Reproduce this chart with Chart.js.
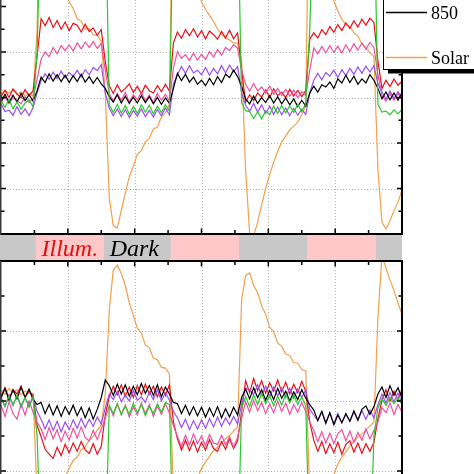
<!DOCTYPE html>
<html>
<head>
<meta charset="utf-8">
<script src="https://cdn.jsdelivr.net/npm/chart.js@4.4.1/dist/chart.umd.min.js"></script>
<style>
  html, body { margin: 0; padding: 0; background: #fff; overflow: hidden; }
  #wrap { position: relative; width: 474px; height: 474px; }
  canvas { position: absolute; left: 0; }
  #topChart { top: 0; width: 474px; height: 262px; }
  #botChart { top: 259px; width: 474px; height: 215px; }
</style>
</head>
<body>
<div id="wrap">
  <canvas id="topChart" width="474" height="262"></canvas>
  <canvas id="botChart" width="474" height="215"></canvas>
</div>
<script>
// time (s), one sample every 6 s
const time = [0,6,12,18,24,30,36,42,48,54,60,66,72,78,84,90,96,102,108,114,120,126,132,138,144,150,
  156,162,168,174,180,186,192,198,204,210,216,222,228,234,240,246,252,258,264,270,276,282,288,294,300,
  306,312,318,324,330,336,342,348,354,360,366,372,378,384,390,396,402,408,414,420,426,432,438,444,450,
  456,462,468,474,480,486,492,498,504,510,516,522,528,534,540,546,552,558,564,570,576,582,588,594,600];

const names = ['365', '405', '532', '660', '850', 'Solar'];
const colors = ['#9b4ff0', '#f0509e', '#2ec82e', '#e8101a', '#000000', '#f2a04a'];
const drawOrder = [3, 4, 1, 5, 2, 6];

// illumination periods (s)
const illumOn = [52, 254, 458];
const illumOff = [154, 356, 561];
const stripLabels = ['Illum.', 'Dark'];

const xTicks = [0,50,100,150,200,250,300,350,400,450,500,550,600];
const topTicks = [0,5,10,15,20,25,30,35,40,45,50];
const topGrid = [10,20,30,40];
const botTicks = [0,5,10,15,20,25,30];
const botGrid = [0,10,20];

// upper panel
const topPurple = [28.6,26.9,27.2,26.1,28.0,26.3,27.5,26.0,27.8,
 31.0,
 33.7,35.2,34.0,35.6,34.1,35.8,34.3,35.5,34.6,36.0,34.5,36.1,35.0,36.6,35.9,37.2,
 31.0,
 27.7,26.0,27.5,25.8,27.3,25.6,27.1,25.9,27.5,25.8,27.2,25.7,27.4,26.0,27.7,26.2,
 33.0,
 35.0,36.8,35.3,37.0,35.4,36.0,35.0,36.6,34.9,36.4,35.2,37.0,35.4,37.1,35.7,36.8,
 31.0,
 28.3,27.0,28.7,26.8,28.4,26.5,28.1,26.3,27.9,26.2,27.7,26.0,27.6,26.1,27.4,26.3,
 31.0,
 33.8,35.3,33.9,35.5,34.7,36.0,34.4,36.1,34.8,36.4,35.1,36.7,35.3,36.9,35.6,37.0,
 33.0,
 31.2,29.6,31.4,29.8,31.3,29.9];
const topPink = [29.0,30.1,28.7,29.9,29.4,28.6,30.2,28.9,29.8,
 34.0,
 38.4,40.0,39.0,41.0,39.6,41.4,40.3,41.6,40.2,42.0,40.7,42.2,41.0,42.3,40.8,41.9,
 36.0,
 30.8,29.3,30.9,29.4,31.1,29.0,30.6,29.5,31.2,29.3,30.5,28.9,30.9,29.4,30.7,29.2,
 36.5,
 40.1,38.6,39.4,38.1,39.8,38.2,39.5,38.4,40.1,38.9,40.5,39.3,41.0,40.3,41.6,40.8,
 36.0,
 32.9,31.4,33.1,31.5,32.3,30.9,32.5,30.7,32.0,30.4,31.8,30.3,31.6,30.0,31.3,30.5,
 36.0,
 40.9,39.6,41.2,39.8,41.4,39.9,41.3,39.8,41.6,40.1,41.8,40.4,42.0,40.6,42.1,41.0,
 35.0,
 30.5,29.2,30.8,29.4,30.9,29.5];
const topGreen = [29.4,27.8,29.6,27.5,29.0,27.4,28.8,29.5,27.9,
 40.0,
 72.5,73.4,72.8,73.9,73.2,74.0,73.5,74.3,73.7,74.6,74.0,74.8,74.2,75.0,74.5,75.1,
 74.8,
 28.4,26.7,28.5,26.6,28.2,26.3,28.0,26.5,28.4,26.8,28.3,26.4,28.1,26.7,28.4,27.0,
 72.0,73.0,73.8,73.2,74.1,73.5,74.4,73.8,74.6,74.0,74.8,74.3,75.0,74.5,75.2,74.7,75.1,
 28.9,27.1,26.9,25.4,26.9,25.3,27.1,26.2,28.1,26.5,28.3,26.6,28.2,26.7,28.5,26.9,28.6,
 45.0,
 72.8,73.6,73.1,74.0,73.4,74.3,73.7,74.5,73.9,74.7,74.2,74.9,74.4,75.1,74.6,75.0,
 28.5,26.8,27.0,26.2,27.3,26.4,27.4];
const topRed = [30.2,31.6,30.0,31.9,30.8,29.9,31.7,30.4,31.5,
 39.0,
 47.3,45.8,47.6,45.4,46.9,45.0,46.6,44.7,46.3,45.9,44.4,46.1,44.5,45.3,43.7,44.9,
 38.0,
 32.6,30.9,32.8,31.2,32.0,33.0,31.1,32.5,30.8,32.7,31.5,31.0,32.6,31.3,32.9,31.4,
 42.0,
 44.4,43.0,44.9,43.6,45.1,43.3,44.7,42.9,44.6,43.8,42.8,44.5,43.1,44.8,42.9,44.2,
 36.0,
 29.0,30.6,29.3,31.0,30.1,31.7,30.0,31.9,30.4,31.2,30.0,31.8,30.3,31.6,30.2,31.5,
 42.8,
 44.2,43.1,44.9,43.8,45.6,44.3,46.0,44.7,46.4,45.2,46.9,45.5,47.2,45.9,47.4,46.5,
 38.0,
 32.0,33.8,32.4,34.1,32.7,33.6];
const topBlack = [29.1,30.7,28.9,30.5,29.0,30.9,29.3,30.6,29.2,
 31.5,
 34.5,33.3,35.2,33.6,35.0,33.5,34.9,33.3,34.8,33.5,35.1,33.4,34.6,33.1,34.4,33.0,
 32.0,
 30.2,29.0,30.6,28.8,30.3,28.7,30.1,28.8,30.4,28.9,30.2,28.6,30.0,28.5,29.9,28.7,
 32.0,
 35.3,33.7,35.1,33.4,34.5,32.9,33.8,32.6,34.2,32.8,34.6,33.3,35.1,34.4,36.0,34.6,
 32.5,
 29.7,28.6,30.3,28.7,30.0,28.9,30.4,28.8,30.2,28.6,29.9,28.4,29.7,28.0,29.4,28.1,
 31.0,
 32.5,31.2,32.8,32.3,33.4,32.0,34.1,33.2,34.9,33.3,34.7,32.9,34.1,33.2,35.0,33.8,
 32.0,
 29.7,31.2,29.5,31.0,29.4,31.1];
const topSolar = [30.8,31.5,31.0,31.7,30.6,31.2,30.4,30.9,30.3,
 45.0,
 92.0,82.0,75.0,69.5,64.5,60.0,54.8,
 51.0,49.6,47.3,46.8,45.0,45.2,43.8,43.7,42.3,
 31.0,8.0,1.8,1.3,5.2,8.9,12.6,14.9,17.5,18.3,20.3,21.0,23.1,23.5,25.7,26.6,28.5,
 90.0,82.0,75.0,69.0,64.0,59.5,55.0,
 51.0,49.4,48.0,46.7,45.0,43.9,43.0,42.7,42.0,41.9,
 38.2,14.1,0.2,-0.4,2.6,6.4,10.1,13.0,15.8,18.2,20.2,21.5,22.9,23.7,24.6,26.2,28.1,
 90.0,82.0,74.0,66.0,60.0,55.0,
 51.2,49.0,47.2,46.0,45.6,44.2,43.5,41.8,41.0,39.8,39.0,
 14.1,2.6,1.1,2.9,5.1,7.0,9.7];

// lower panel
const botPurple = [10.6,9.2,10.9,9.4,10.8,9.1,10.5,9.3,10.7,
 8.5,
 7.4,6.0,7.3,5.8,7.1,5.6,7.0,5.9,7.3,6.1,7.5,6.2,7.4,6.4,7.7,6.7,
 9.0,
 11.0,10.2,11.4,9.9,10.8,10.0,11.5,10.1,10.6,9.8,11.3,10.2,11.6,10.0,11.2,10.1,
 8.5,
 7.6,6.2,7.4,5.9,7.2,6.0,7.3,6.1,7.5,6.3,7.7,6.4,7.6,6.6,7.8,6.7,
 9.5,
 11.8,11.6,10.9,12.3,10.8,12.1,10.6,12.0,10.7,11.9,10.5,11.8,10.4,11.7,10.5,11.6,
 8.8,
 8.0,7.2,8.5,7.0,8.3,6.8,8.2,6.9,8.1,7.1,8.4,7.2,8.6,7.4,8.7,7.6,
 9.5,
 11.0,9.7,11.2,9.9,11.1,9.8];
const botPink = [9.4,7.8,9.9,8.2,7.4,9.6,8.0,10.0,8.4,
 7.0,
 6.0,4.5,6.2,4.6,5.9,4.2,5.7,4.4,6.1,4.7,6.3,4.8,4.3,5.8,4.5,6.0,
 7.5,
 9.3,7.9,9.6,8.1,9.4,7.7,9.2,8.0,9.7,8.2,9.5,7.8,9.3,8.1,9.6,8.3,
 6.5,
 4.9,3.5,5.1,3.7,5.3,3.9,5.0,3.6,5.2,4.0,3.8,5.1,3.7,4.9,3.4,4.8,
 7.5,
 9.9,8.4,10.1,8.6,9.8,8.2,9.6,8.3,10.0,8.5,9.7,8.1,9.5,8.4,9.8,8.5,
 7.0,
 5.8,4.2,5.6,4.0,5.4,3.9,5.3,5.9,4.3,5.7,4.1,5.5,4.4,6.0,4.6,5.8,
 7.0,
 9.1,8.3,9.7,8.1,9.5,8.4];
const botGreen = [10.4,9.2,10.7,9.4,10.8,9.3,10.5,9.1,10.6,
 5.0,
 -12.0,-12.4,-11.8,-12.6,-12.1,-12.8,-12.3,-12.9,-12.5,-13.0,-12.6,-13.1,-12.7,-13.2,-12.8,-13.3,-12.9,
 9.4,8.2,9.6,8.0,9.3,8.1,9.7,8.3,9.5,7.9,9.2,8.2,9.6,8.4,9.8,9.5,
 -12.2,-12.7,-12.3,-12.9,-12.5,-13.0,-12.6,-13.1,-12.7,-13.2,-12.8,-13.3,-12.9,-13.4,-13.0,-13.4,-13.1,
 9.0,10.6,9.2,10.9,9.5,11.1,9.6,10.8,9.3,10.7,9.4,11.0,9.7,10.9,9.5,10.6,9.3,
 -12.3,-12.8,-12.4,-13.0,-12.6,-13.1,-12.7,-13.2,-12.8,-13.3,-12.9,-13.4,-13.0,-13.5,-13.1,-13.4,
 5.0,
 9.0,10.3,9.4,10.5,9.6,10.4,9.5];
const botRed = [10.7,11.9,10.4,11.6,11.0,12.1,10.5,11.4,10.8,
 6.5,
 4.9,3.1,2.4,1.8,3.4,2.2,3.8,2.6,4.0,2.8,4.2,3.0,2.5,3.9,2.4,3.5,
 8.0,
 10.6,12.1,10.9,12.3,10.7,12.0,10.5,12.2,10.9,12.4,11.0,12.1,10.6,12.0,10.8,12.3,
 7.0,
 4.6,3.0,4.4,2.9,4.3,2.7,4.1,3.0,4.5,3.2,2.8,4.2,3.1,4.6,3.2,4.3,
 8.5,
 12.9,11.2,13.2,11.5,12.9,11.1,12.6,11.4,13.0,11.3,12.7,11.0,12.4,11.2,12.8,11.4,
 7.0,
 4.4,2.8,4.2,2.5,3.9,2.6,4.1,2.4,3.8,4.3,2.7,4.0,2.5,3.9,2.8,4.1,
 7.5,
 10.1,11.6,10.0,11.4,10.2,11.7];
const botBlack = [10.4,11.8,10.1,11.6,10.3,12.0,10.5,11.7,10.2,
 9.5,
 9.8,8.2,9.5,8.0,9.3,7.8,9.2,8.1,9.4,7.9,9.1,7.6,9.0,7.4,8.8,10.5,
 13.0,
 12.2,10.8,12.4,11.0,12.3,10.7,12.1,10.9,12.5,11.1,12.2,10.8,12.3,10.6,12.0,11.0,
 9.8,
 9.6,8.2,9.4,8.0,9.2,7.9,9.1,7.7,9.0,7.8,9.2,7.6,8.9,7.7,9.1,8.0,
 10.5,
 11.7,10.3,11.9,10.5,11.6,10.1,11.5,10.2,11.8,10.4,11.4,10.0,11.3,10.2,11.6,10.4,
 9.5,
 8.7,7.2,8.5,6.8,8.3,6.6,8.0,6.9,8.2,7.1,8.6,7.3,8.8,9.3,8.1,9.2,
 11.0,
 12.0,10.5,12.2,10.8,11.9,10.4];
const botSolar = [11.5,11.0,11.8,11.2,11.6,10.9,11.4,11.1,11.0,
 -3.5,
 -7.0,-6.0,-5.0,-4.0,-3.0,-2.0,-0.9,
 0.4,1.5,2.0,3.0,3.5,4.4,4.9,5.8,6.6,
 10.9,23.0,28.7,29.4,28.2,26.5,24.0,22.2,20.4,19.7,18.0,17.6,16.1,15.9,14.8,14.7,13.9,
 -3.0,-6.0,-5.0,-4.0,-3.0,-2.0,-1.0,
 0.3,1.3,2.1,2.9,3.4,4.0,4.6,5.1,5.7,6.3,
 24.4,27.9,28.3,26.5,25.5,23.6,22.4,20.5,19.9,18.3,17.8,16.7,16.5,15.5,15.4,14.5,14.3,
 -3.5,-6.0,-4.8,-3.5,-2.2,-1.0,-0.6,
 1.0,2.0,2.7,3.6,4.2,4.8,5.3,5.8,6.4,7.0,
 22.0,30.8,29.0,27.3,25.8,24.0,22.4];

const topSeries = [topPurple, topPink, topGreen, topRed, topBlack, topSolar];
const botSeries = [botPurple, botPink, botGreen, botRed, botBlack, botSolar];

function makeSets(series) {
  return series.map((s, k) => ({
    label: names[k],
    data: s.map((v, i) => ({ x: time[i], y: v })),
    borderColor: colors[k],
    borderWidth: 1.2,
    pointRadius: 0,
    tension: 0,
    fill: false,
    order: drawOrder[k]
  }));
}

// grid, frame, inward ticks, illumination strip and legend
function decor(cfg) {
  return {
    id: 'decor',
    beforeDatasetsDraw(chart) {
      const { ctx, chartArea: a, scales: { x, y } } = chart;
      ctx.save();
      ctx.strokeStyle = '#b4b4b4';
      ctx.lineWidth = 1;
      ctx.setLineDash([1, 2]);
      ctx.beginPath();
      xTicks.forEach(v => {
        if (v % 100 !== 0 || v <= x.min || v >= x.max) return;
        const px = Math.round(x.getPixelForValue(v)) + 0.5;
        ctx.moveTo(px, a.top); ctx.lineTo(px, a.bottom);
      });
      cfg.grid.forEach(v => {
        const py = Math.round(y.getPixelForValue(v)) + 0.5;
        ctx.moveTo(a.left, py); ctx.lineTo(a.right, py);
      });
      ctx.stroke();
      ctx.restore();
    },
    afterDatasetsDraw(chart) {
      const { ctx, chartArea: a, scales: { x, y } } = chart;
      const down = cfg.edge === 'bottom';
      const edge = down ? a.bottom : a.top;
      ctx.save();

      if (cfg.strip) {
        const st = a.bottom + 1, sh = 25;
        ctx.fillStyle = '#c8c8c8';
        ctx.fillRect(0, st, a.right, sh);
        ctx.fillStyle = '#ffc8c8';
        illumOn.forEach((t, k) => {
          const x0 = x.getPixelForValue(t), x1 = x.getPixelForValue(illumOff[k]);
          ctx.fillRect(x0, st, x1 - x0, sh);
        });
        ctx.font = 'italic 24px "Liberation Serif", "Times New Roman", serif';
        ctx.textAlign = 'center';
        ctx.textBaseline = 'alphabetic';
        ctx.fillStyle = '#e01010';
        ctx.fillText(stripLabels[0], x.getPixelForValue((illumOn[0] + illumOff[0]) / 2), a.bottom + 22);
        ctx.fillStyle = '#000';
        ctx.fillText(stripLabels[1], x.getPixelForValue((illumOff[0] + illumOn[1]) / 2) - 3, a.bottom + 22);
      }

      // inward ticks
      ctx.strokeStyle = '#000';
      ctx.lineWidth = 1.5;
      ctx.beginPath();
      cfg.ticks.forEach(v => {
        const py = y.getPixelForValue(v);
        if (py <= a.top + 1 || py >= a.bottom - 1) return;
        const len = v % 10 === 0 ? 5 : 3.5;
        ctx.moveTo(a.left, py); ctx.lineTo(a.left + len, py);
        ctx.moveTo(a.right, py); ctx.lineTo(a.right - len, py);
      });
      xTicks.forEach(v => {
        if (v <= x.min || v >= x.max) return;
        const px = x.getPixelForValue(v);
        const len = v % 100 === 0 ? 5.5 : 4;
        ctx.moveTo(px, edge); ctx.lineTo(px, edge + (down ? -len : len));
      });
      ctx.stroke();

      // frame
      ctx.lineWidth = 2;
      ctx.beginPath();
      ctx.moveTo(a.right, down ? a.top - 2 : a.top - 1); ctx.lineTo(a.right, down ? a.bottom + 1 : a.bottom + 2);
      ctx.moveTo(0, edge); ctx.lineTo(a.right + 1, edge);
      ctx.stroke();
      ctx.strokeStyle = '#3a3a3a';
      ctx.beginPath();
      ctx.moveTo(a.left - 0.5, down ? a.top - 2 : a.top); ctx.lineTo(a.left - 0.5, down ? a.bottom + 1 : a.bottom + 2);
      ctx.stroke();

      if (cfg.legend) {
        const bx = a.right - 18.5, by = 69.5;
        ctx.fillStyle = '#fff';
        ctx.fillRect(bx, -5, 200, by + 5);
        ctx.strokeStyle = '#000';
        ctx.lineWidth = 1;
        ctx.strokeRect(bx, -5, 200, by + 5);
        ctx.fillStyle = '#000';
        ctx.fillRect(bx + 4.5, by + 0.5, 200, 3.5);
        ctx.font = '18px "Liberation Serif", "Times New Roman", serif';
        ctx.textAlign = 'left';
        ctx.textBaseline = 'alphabetic';
        const n = names.length;
        names.forEach((nm, k) => {
          const ly = 57.5 - 45 * (n - 1 - k);
          if (ly < -20) return;
          ctx.strokeStyle = colors[k];
          ctx.lineWidth = 1.5;
          ctx.beginPath();
          ctx.moveTo(bx + 2.5, ly); ctx.lineTo(bx + 43.5, ly);
          ctx.stroke();
          ctx.fillStyle = '#000';
          ctx.fillText(nm, bx + 47.5, ly + 6);
        });
      }
      ctx.restore();
    }
  };
}

function makeChart(id, series, yMin, yMax, padding, cfg) {
  return new Chart(document.getElementById(id), {
    type: 'line',
    data: { datasets: makeSets(series) },
    options: {
      responsive: false,
      animation: false,
      events: [],
      layout: { padding: padding },
      plugins: { legend: { display: false }, tooltip: { enabled: false } },
      scales: {
        x: { type: 'linear', min: 0, max: 600, display: false },
        y: { type: 'linear', min: yMin, max: yMax, display: false }
      }
    },
    plugins: [decor(cfg)]
  });
}

makeChart('topChart', topSeries, 0, 51.43,
  { left: 1, right: 72, top: 0, bottom: 28 },
  { ticks: topTicks, grid: topGrid, edge: 'bottom', strip: true, legend: true });

makeChart('botChart', botSeries, -0.43, 30,
  { left: 1, right: 72, top: 2, bottom: 0 },
  { ticks: botTicks, grid: botGrid, edge: 'top' });
</script>
</body>
</html>
